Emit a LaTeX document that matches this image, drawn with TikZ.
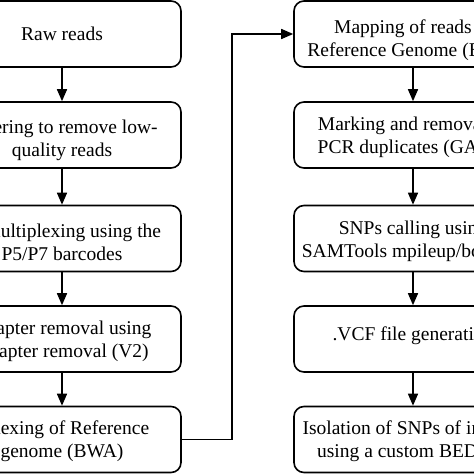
\documentclass[tikz,border=0pt]{standalone}
\usepackage{fontspec}
\setmainfont{Liberation Serif}
\usetikzlibrary{arrows.meta}
\begin{document}
\begin{tikzpicture}[x=1pt,y=-1pt,
  box/.style={draw, line width=1.6pt, rounded corners=10pt, fill=white,
    minimum width=238pt, minimum height=66pt, inner sep=0pt},
  txt/.style={anchor=base, inner sep=0pt, font=\fontsize{19.5}{23}\selectfont},
  arr/.style={line width=1.5pt, -{Triangle[length=12pt,width=10pt]}}]
\useasboundingbox (0,0) rectangle (474,474);
\fill[white] (0,0) rectangle (474,474);
\clip (0,0) rectangle (474,474);
% left column
\node[box] (L1) at (62,34) {};
\node[box] (L2) at (62,135) {};
\node[box] (L3) at (62,238.5) {};
\node[box] (L4) at (62,339) {};
\node[box] (L5) at (62,439.5) {};
% right column
\node[box] (R1) at (413,34) {};
\node[box] (R2) at (413,135) {};
\node[box] (R3) at (413,238.5) {};
\node[box] (R4) at (413,339) {};
\node[box] (R5) at (413,439.5) {};
% texts
\node[txt] (tL1) at (62,40) {Raw reads};
\node[txt] (tL2) at (62,133) {\begin{tabular}[t]{@{}c@{}}Filtering to remove low-\\quality reads\end{tabular}};
\node[txt] (tL3) at (62,237) {\begin{tabular}[t]{@{}c@{}}Demultiplexing using the\\P5/P7 barcodes\end{tabular}};
\node[txt] (tL4) at (62,334) {\begin{tabular}[t]{@{}c@{}}Adapter removal using\\Adapter removal (V2)\end{tabular}};
\node[txt] (tL5) at (62,434) {\begin{tabular}[t]{@{}c@{}}Indexing of Reference\\genome (BWA)\end{tabular}};
\node[txt] (tR1) at (413,33) {\begin{tabular}[t]{@{}c@{}}Mapping of reads to\\Reference Genome (BWA)\end{tabular}};
\node[txt] (tR2) at (413,130) {\begin{tabular}[t]{@{}c@{}}Marking and removal of\\PCR duplicates (GATK)\end{tabular}};
\node[txt] (tR3) at (413,234) {\begin{tabular}[t]{@{}c@{}}SNPs calling using\\SAMTools mpileup/bcftools\end{tabular}};
\node[txt] (tR4) at (413,340) {.VCF file generation};
\node[txt] (tR5) at (413,434) {\begin{tabular}[t]{@{}c@{}}Isolation of SNPs of interest\\using a custom BED file\end{tabular}};
% connectors
\draw[arr] (L1) -- (L2);
\draw[arr] (L2) -- (L3);
\draw[arr] (L3) -- (L4);
\draw[arr] (L4) -- (L5);
\draw[arr] (R1) -- (R2);
\draw[arr] (R2) -- (R3);
\draw[arr] (R3) -- (R4);
\draw[arr] (R4) -- (R5);
\coordinate (j) at (232,34);
\draw[arr] (L5.east) -| (j) -- (R1.west);
\end{tikzpicture}
\end{document}
